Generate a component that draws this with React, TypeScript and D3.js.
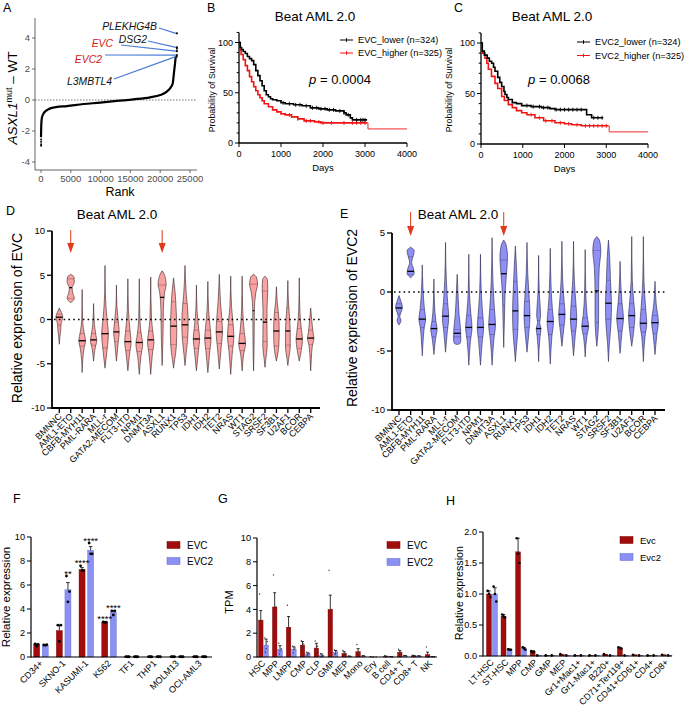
import React, { useEffect, useRef } from 'react';
import * as d3 from 'd3';

const FONT = '"Liberation Sans", Arial, Helvetica, sans-serif';
const RED_BAR = '#a10c0c';
const BLUE_BAR = '#8a91f2';
const BLUE_EDGE = '#5e67d4';

// ---------- A: ranked ASXL1mut - WT differences ----------
const rankPts = [0, 60, 150, 446, 1000, 1562, 2500, 4350, 7140, 9930, 12720, 15500, 18300, 20000, 21100, 21650, 22100, 22300, 22490, 22600];
const rankVals = [-2.4, -1.5, -1.15, -0.86, -0.66, -0.54, -0.46, -0.39, -0.26, -0.17, -0.06, 0.04, 0.17, 0.32, 0.54, 0.75, 1.07, 1.72, 2.37, 2.8];
const tailRanks = [20, 20, 20, 20];
const tailVals = [-2.55, -2.7, -2.85, -2.95];
const genes = ['PLEKHG4B', 'DSG2', 'EVC', 'EVC2', 'L3MBTL4'];
const geneRanks = [22800, 22800, 22800, 22790, 22760];
const geneVals = [4.3, 3.4, 3.15, 2.9, 2.8];
const geneHighlight = [false, false, true, true, false];
const extraRanks = [22800];
const extraVals = [3.3];

// ---------- B / C: survival curves (day, % surviving) ----------
const bLower: [number, number][] = [[0, 100], [30, 95], [60, 93], [100, 91], [150, 89], [200, 86], [250, 84], [300, 82], [350, 78], [400, 72], [450, 67], [500, 62], [550, 57], [600, 52], [650, 48], [700, 46], [750, 44], [800, 43], [900, 42], [1000, 40], [1100, 39], [1300, 38], [1500, 37], [1700, 35], [1900, 34], [2100, 33], [2300, 32], [2500, 30], [2550, 28], [2650, 25], [2700, 23], [3050, 23]];
const bHigher: [number, number][] = [[0, 100], [20, 93], [50, 88], [100, 83], [150, 77], [200, 72], [250, 66], [300, 61], [350, 56], [400, 52], [450, 48], [500, 45], [550, 42], [600, 39], [700, 36], [800, 33], [900, 31], [1000, 29], [1100, 28], [1250, 26], [1400, 24], [1550, 22], [1800, 21], [1950, 20], [3050, 20], [3070, 14], [4000, 14]];
const bLowerCens = [1050, 1200, 1350, 1450, 1600, 1750, 1850, 1950, 2050, 2150, 2250, 2400, 2500, 2600, 2800, 2900, 2950, 3000];
const bHigherCens = [1200, 1400, 1600, 1700, 1900, 2000, 2200, 2500, 2700, 2800, 2900, 3000];
const cLower: [number, number][] = [[0, 100], [30, 92], [80, 88], [150, 85], [200, 82], [255, 80], [300, 76], [335, 72], [400, 66], [450, 61], [495, 57], [550, 52], [575, 49], [620, 46], [655, 44], [750, 41], [850, 40], [974, 38], [1200, 37], [1450, 36], [1650, 35], [1772, 34], [2490, 34], [2530, 29], [2650, 26], [2930, 26]];
const cHigher: [number, number][] = [[0, 100], [30, 90], [96, 85], [140, 80], [176, 74], [250, 67], [335, 60], [400, 55], [495, 47], [560, 43], [655, 39], [750, 36], [850, 33], [974, 31], [1100, 29], [1293, 26], [1500, 23], [1772, 21], [2000, 20], [2171, 19], [2400, 18], [3049, 18], [3070, 12], [4000, 12]];
const cLowerCens = [1100, 1250, 1400, 1500, 1600, 1800, 1900, 2000, 2100, 2200, 2300, 2400, 2700, 2800, 2900];
const cHigherCens = [1200, 1400, 1550, 1700, 1900, 2100, 2300, 2500, 2600, 2700, 2800, 2900, 3000];

// ---------- D / E: violins ----------
const mutCats = ['BMNNC', 'AML1-ETO', 'CBFB-MYH11', 'PML-RARA', 'MLL-r', 'GATA2-MECOM', 'FLT3-ITD', 'NPM1', 'DNMT3A', 'ASXL1', 'RUNX1', 'TP53', 'IDH1', 'IDH2', 'TET2', 'NRAS', 'WT1', 'STAG2', 'SRSF2', 'SF3B1', 'U2AF1', 'BCOR', 'CEBPA'];
const arrowCats = ['AML1-ETO', 'ASXL1'];

// [value, relative half-width] outline knots, top to bottom
const evcShapes: [number, number][][] = [
  [[1.3, 0], [0.8, 0.5], [0.3, 0.85], [-0.5, 0.45], [-1.2, 0.35], [-2, 0.15], [-2.8, 0]],
  [[5.1, 0], [4.8, 0.8], [4.2, 0.9], [3.6, 0.35], [3.0, 0.5], [2.4, 0.9], [1.9, 0]],
  [[3.4, 0], [0, 0.1], [-1.5, 0.5], [-2.4, 0.85], [-3.2, 0.5], [-4.5, 0.15], [-6, 0]],
  [[1.8, 0], [-0.5, 0.2], [-1.8, 0.6], [-2.4, 0.8], [-3.2, 0.4], [-4.7, 0]],
  [[6.1, 0], [3, 0.08], [0, 0.5], [-1.6, 0.85], [-3.5, 0.5], [-5.5, 0]],
  [[3.9, 0], [1.5, 0.12], [-0.8, 0.6], [-1.5, 0.7], [-2.5, 0.45], [-4.7, 0]],
  [[4.6, 0], [1, 0.15], [-1.5, 0.6], [-2.5, 0.8], [-4, 0.4], [-5.8, 0]],
  [[4.6, 0], [0, 0.15], [-2, 0.6], [-2.7, 0.85], [-4.2, 0.4], [-6.2, 0]],
  [[4.8, 0], [0, 0.2], [-2, 0.7], [-2.5, 0.8], [-4, 0.4], [-6.2, 0]],
  [[5.5, 0], [5, 0.6], [4, 1.0], [3, 0.6], [1, 0.3], [-1, 0.25], [-3, 0.15], [-5.2, 0]],
  [[4.7, 0], [3, 0.4], [1, 0.65], [-1, 0.8], [-3, 0.7], [-4.5, 0.3], [-5.5, 0]],
  [[6.1, 0], [3, 0.3], [1.5, 0.6], [-0.5, 0.8], [-2.5, 0.6], [-4, 0.25], [-5.2, 0]],
  [[3.9, 0], [1, 0.15], [-1, 0.55], [-2.2, 0.8], [-3.5, 0.5], [-5.8, 0]],
  [[4.3, 0], [1, 0.2], [-1, 0.6], [-2.2, 0.8], [-3.5, 0.5], [-6, 0]],
  [[5.1, 0], [2, 0.3], [0, 0.65], [-1.4, 0.8], [-3, 0.5], [-5.6, 0]],
  [[4.9, 0], [1.5, 0.2], [-0.5, 0.6], [-2, 0.8], [-3.5, 0.45], [-6.2, 0]],
  [[4.9, 0], [1, 0.15], [-1.5, 0.55], [-2.7, 0.85], [-4, 0.35], [-5.8, 0]],
  [[5.1, 0], [4.8, 0.7], [4, 1.0], [3, 0.55], [1, 0.2], [-2, 0.15], [-4, 0.1], [-5.8, 0]],
  [[4.9, 0], [4.5, 0.6], [3.5, 0.7], [1, 0.5], [-1, 0.5], [-3, 0.55], [-4.5, 0.2], [-5.4, 0]],
  [[3.7, 0], [2, 0.2], [0.5, 0.55], [-1.3, 0.7], [-3, 0.6], [-4, 0.3], [-4.7, 0]],
  [[4.4, 0], [2, 0.15], [0, 0.45], [-1.5, 0.6], [-3, 0.6], [-4.5, 0.2], [-5.2, 0]],
  [[4.7, 0], [1, 0.15], [-1, 0.5], [-2.2, 0.8], [-3.5, 0.5], [-4.7, 0]],
  [[1.3, 0], [0, 0.25], [-1.5, 0.6], [-2.1, 0.8], [-3, 0.4], [-4.5, 0.15], [-5.8, 0]],
];
const evcMedian = [0.26, 3.6, -2.4, -2.3, -1.6, -1.4, -2.5, -2.6, -2.3, 2.5, -0.75, -0.6, -2.2, -2.1, -1.4, -1.9, -2.7, 1.0, -0.3, -1.3, -1.3, -2.2, -2.1];
const evcQ3 = [0.6, 4.6, -1.6, -1.6, 0, -0.3, -1.3, -1.5, -1.3, 3.9, 2.0, 1.8, -1.2, -1.2, -0.2, -0.6, -1.6, 4.0, 3.2, 0.8, 1.3, -1.0, -1.2];
const evcQ1 = [-0.6, 2.4, -3.0, -2.9, -3.2, -2.5, -3.5, -3.6, -3.4, -0.2, -2.8, -2.0, -3.3, -3.3, -2.7, -3.0, -3.5, -2.4, -2.5, -3.0, -2.9, -3.3, -2.8];

const evc2Shapes: [number, number][][] = [
  [[-0.3, 0], [-0.8, 0.5], [-1.3, 0.85], [-1.8, 0.4], [-2.1, 0.2], [-2.4, 0.5], [-2.8, 0]],
  [[3.8, 0], [3.5, 0.9], [3.0, 0.6], [2.5, 0.25], [2.0, 0.7], [1.6, 0.9], [1.2, 0]],
  [[2.3, 0], [0.5, 0.15], [-1.5, 0.55], [-2.3, 0.85], [-3, 0.5], [-4.5, 0.15], [-5.4, 0]],
  [[1.1, 0], [-1, 0.15], [-2.5, 0.5], [-3.1, 0.8], [-4, 0.4], [-5.3, 0]],
  [[4.2, 0], [1, 0.2], [-1, 0.55], [-2.1, 0.8], [-3.5, 0.4], [-5.1, 0]],
  [[1.5, 0], [0, 0.2], [-2, 0.5], [-3.2, 0.85], [-4, 0.9], [-4.35, 0.75], [-4.45, 0]],
  [[3.2, 0], [0, 0.15], [-2, 0.55], [-3, 0.8], [-4.2, 0.4], [-6.2, 0]],
  [[3.2, 0], [0, 0.2], [-2, 0.6], [-3, 0.8], [-4.2, 0.45], [-6.2, 0]],
  [[4.6, 0], [1, 0.2], [-1.5, 0.6], [-2.8, 0.85], [-4, 0.45], [-6.2, 0]],
  [[4.4, 0], [4.0, 0.6], [3, 0.95], [2, 0.8], [0, 0.35], [-2, 0.2], [-4.7, 0]],
  [[3.9, 0], [2, 0.3], [0, 0.55], [-1.6, 0.7], [-3.3, 0.6], [-5, 0.2], [-5.9, 0]],
  [[4.2, 0], [1.5, 0.2], [-0.5, 0.55], [-2, 0.75], [-3.5, 0.45], [-5.1, 0]],
  [[3.1, 0], [0, 0.15], [-2, 0.5], [-2.6, 0.25], [-3.1, 0.6], [-3.8, 0.35], [-5.9, 0]],
  [[3.7, 0], [0, 0.25], [-1.5, 0.55], [-2.5, 0.8], [-3.8, 0.4], [-6.1, 0]],
  [[4.3, 0], [1, 0.2], [-1, 0.6], [-1.9, 0.8], [-3, 0.5], [-4.6, 0]],
  [[4.3, 0], [1, 0.2], [-1, 0.6], [-2.3, 0.8], [-3.6, 0.45], [-5.4, 0]],
  [[3.6, 0], [0, 0.15], [-2, 0.5], [-2.9, 0.85], [-3.8, 0.4], [-5.5, 0]],
  [[4.7, 0], [4.3, 0.75], [3.5, 1.0], [2, 0.6], [0, 0.45], [-2, 0.45], [-3.5, 0.3], [-4.6, 0]],
  [[4.4, 0], [3, 0.3], [1, 0.5], [-1, 0.75], [-2.6, 0.65], [-4.5, 0.2], [-5.9, 0]],
  [[2.6, 0], [0.5, 0.2], [-1, 0.5], [-2.25, 0.85], [-3.3, 0.5], [-5.2, 0]],
  [[4.7, 0], [1, 0.15], [-1, 0.55], [-2, 0.8], [-3.3, 0.5], [-4.6, 0]],
  [[4.7, 0], [1, 0.15], [-1.5, 0.6], [-2.65, 0.85], [-3.8, 0.4], [-5.9, 0]],
  [[0.9, 0], [-1, 0.3], [-2.6, 0.85], [-3.5, 0.5], [-4.5, 0.2], [-5.3, 0]],
];
const evc2Median = [-1.35, 1.75, -2.3, -3.1, -2.05, -3.5, -3.0, -3.0, -2.75, 1.55, -1.6, -2.0, -3.1, -2.5, -1.9, -2.3, -2.9, 0.1, -0.95, -2.25, -2.0, -2.65, -2.6];
const evc2Q3 = [-1.0, 3.0, -1.5, -2.5, -1.0, -3.2, -2.0, -2.2, -1.5, 2.7, 0.9, -0.8, -2.4, -1.5, -1.0, -1.2, -2.2, 3.5, 1.0, -1.0, -1.0, -1.5, -2.0];
const evc2Q1 = [-1.8, 1.5, -3.0, -3.8, -3.0, -3.8, -3.8, -3.8, -3.6, -1.1, -3.2, -3.0, -3.6, -3.6, -2.8, -3.3, -3.5, -2.6, -2.3, -3.3, -3.0, -3.4, -3.5];

// ---------- F: cell lines ----------
const fCats = ['CD34+', 'SKNO-1', 'KASUMI-1', 'K562', 'TF1', 'THP1', 'MOLM13', 'OCI-AML3'];
const fEvcMean = [1.02, 2.2, 7.3, 2.9, 0.02, 0.02, 0.02, 0.02];
const fEvcSem = [0.07, 0.45, 0.15, 0.04, 0, 0, 0, 0];
const fEvc2Mean = [1.0, 5.6, 8.9, 3.75, 0.02, 0.02, 0.02, 0.02];
const fEvc2Sem = [0.04, 0.6, 0.3, 0.12, 0, 0, 0, 0];
const fEvcDots = [[1.1, 1.05, 0.9], [2.65, 2.65, 1.3], [7.6, 7.2, 7.2], [2.92, 2.9, 2.88], [0.03, 0.02, 0.02], [0.03, 0.02, 0.02], [0.03, 0.02, 0.02], [0.03, 0.02, 0.02]];
const fEvc2Dots = [[1.0, 1.02, 0.97], [6.75, 5.45, 4.6], [9.5, 8.6, 8.6], [3.85, 3.85, 3.5], [0.03, 0.02, 0.02], [0.03, 0.02, 0.02], [0.03, 0.02, 0.02], [0.03, 0.02, 0.02]];
const fStarCat = ['SKNO-1', 'KASUMI-1', 'KASUMI-1', 'K562', 'K562'];
const fStarSeries = [1, 0, 1, 0, 1];
const fStarText = ['**', '****', '****', '****', '****'];

// ---------- G: TPM in human hematopoietic cells ----------
const gCats = ['HSC', 'MPP', 'LMPP', 'CMP', 'CLP', 'GMP', 'MEP', 'Mono', 'Ery', 'B cell', 'CD4+ T', 'CD8+ T', 'NK'];
const gEvcMean = [3.1, 4.2, 2.5, 1.0, 0.75, 4.0, 0.3, 0.45, 0.01, 0.05, 0.4, 0.1, 0.21];
const gEvcSem = [0.8, 1.2, 0.9, 0.3, 0.4, 1.2, 0.15, 0.25, 0, 0.03, 0.15, 0.03, 0.2];
const gEvc2Mean = [1.0, 0.65, 0.65, 0.25, 0.12, 0.4, 0.06, 0.08, 0.0, 0.02, 0.1, 0.08, 0.02];
const gEvc2Sem = [0.5, 0.3, 0.2, 0.1, 0.13, 0.15, 0.02, 0.03, 0, 0.01, 0.03, 0.02, 0.01];
const gEvcDots = [[5.3, 3.0, 2.1, 2.0], [6.9, 4.2, 3.3, 2.3], [4.35, 2.4, 1.9, 1.35], [1.4, 1.1, 0.8, 0.7], [1.35, 0.9, 0.5, 0.25], [7.3, 4.0, 2.9, 1.8], [0.55, 0.3, 0.2, 0.15], [1.05, 0.4, 0.25, 0.1], [0.02, 0.01], [0.12, 0.05, 0.0], [0.65, 0.4, 0.2, 0.35], [0.15, 0.1, 0.05], [0.85, 0.0, 0.0]];
const gEvc2Dots = [[1.6, 1.3, 0.7, 0.4], [1.15, 0.7, 0.5, 0.25], [0.9, 0.75, 0.6, 0.35], [0.4, 0.3, 0.2, 0.1], [0.3, 0.1, 0.05, 0.03], [0.6, 0.5, 0.3, 0.2], [0.08, 0.05], [0.1, 0.07], [0.0], [0.03, 0.01], [0.13, 0.08], [0.1, 0.06], [0.03, 0.01]];

// ---------- H: mouse hematopoietic populations ----------
const hCats = ['LT-HSC', 'ST-HSC', 'MPP', 'CMP', 'GMP', 'MEP', 'Gr1+Mac1+', 'Gr1-Mac1+', 'B220+', 'CD71+Ter119+', 'CD41+CD61+', 'CD4+', 'CD8+'];
const hEvcMean = [1.0, 0.64, 1.68, 0.07, 0.01, 0.03, 0.01, 0.01, 0.03, 0.13, 0.02, 0.01, 0.02];
const hEvcSem = [0.05, 0.03, 0.22, 0.01, 0, 0, 0, 0, 0, 0.01, 0, 0, 0];
const hEvc2Mean = [1.0, 0.1, 0.12, 0.01, 0.01, 0.01, 0.01, 0.01, 0.01, 0.01, 0.01, 0.01, 0.01];
const hEvc2Sem = [0.1, 0.01, 0.02, 0, 0, 0, 0, 0, 0, 0, 0, 0, 0];
const hEvcDots = [[1.05, 0.95, 1.0], [0.67, 0.62, 0.64], [1.9, 1.5, 1.65], [0.08, 0.07, 0.06], [0.01], [0.03], [0.01], [0.01], [0.03], [0.14, 0.12], [0.02], [0.01], [0.02]];
const hEvc2Dots = [[1.12, 0.88, 1.0], [0.11, 0.1, 0.1], [0.14, 0.1, 0.12], [0.01], [0.01], [0.01], [0.01], [0.01], [0.01], [0.01], [0.01], [0.01], [0.01]];

type Sel = d3.Selection<any, any, any, any>;

function label(g: Sel, x: number, y: number, s: string, size: number, o: any = {}) {
  const t = g.append('text')
    .attr('x', x).attr('y', y)
    .attr('font-size', size)
    .attr('text-anchor', o.anchor || 'start')
    .attr('fill', o.fill || '#000');
  if (o.italic) t.attr('font-style', 'italic');
  if (o.rotate != null) t.attr('transform', `rotate(${o.rotate},${x},${y})`);
  t.text(s);
  return t;
}

function seg(g: Sel, x1: number, y1: number, x2: number, y2: number, stroke: string, w: number) {
  return g.append('line').attr('x1', x1).attr('y1', y1).attr('x2', x2).attr('y2', y2)
    .attr('stroke', stroke).attr('stroke-width', w);
}

function drawRank(svg: Sel) {
  const g = svg.append('g');
  const x = d3.scaleLinear().domain([0, 25000]).range([41, 190]);
  const y = d3.scaleLinear().domain([-4, 4]).range([162, 38]);

  seg(g, 35, 170, 197, 170, '#222', 0.7);
  seg(g, 35, 18, 35, 170, '#222', 0.7);
  [0, 5000, 10000, 15000, 20000, 25000].forEach(v => {
    seg(g, x(v), 170, x(v), 173, '#333', 0.7);
    label(g, x(v), 182, String(v), 9.5, { anchor: 'middle', fill: '#4d4d4d' });
  });
  [-4, -2, 0, 2, 4].forEach(v => {
    seg(g, 32, y(v), 35, y(v), '#333', 0.7);
    label(g, 30, y(v) + 3.3, String(v), 9.5, { anchor: 'end', fill: '#4d4d4d' });
  });
  seg(g, 35, y(0), 197, y(0), '#333', 0.7).attr('stroke-dasharray', '1.5,1.5');

  const pts = rankPts.map((r, i) => [r, rankVals[i]] as [number, number]);
  g.append('path')
    .attr('d', d3.line<[number, number]>().x(d => x(d[0])).y(d => y(d[1])).curve(d3.curveMonotoneX)(pts))
    .attr('fill', 'none').attr('stroke', '#000').attr('stroke-width', 2.2);
  tailRanks.forEach((r, i) => g.append('circle').attr('cx', x(r)).attr('cy', y(tailVals[i])).attr('r', 1).attr('fill', '#000'));
  extraRanks.forEach((r, i) => g.append('circle').attr('cx', x(r)).attr('cy', y(extraVals[i])).attr('r', 1).attr('fill', '#000'));

  const anchors = [[157, 30], [147, 43], [113, 47], [102, 63], [112, 85]];
  const starts = [[159, 28], [148, 41], [121, 45], [105, 55], [114, 79]];
  genes.forEach((name, i) => {
    const px = x(geneRanks[i]);
    const py = y(geneVals[i]);
    seg(g, starts[i][0], starts[i][1], px - 1, py, '#4a7bd6', 1.2);
    g.append('circle').attr('cx', px).attr('cy', py).attr('r', 1.1).attr('fill', '#000');
    label(g, anchors[i][0], anchors[i][1], name, 10.4, {
      anchor: 'end', italic: true, fill: geneHighlight[i] ? '#d42020' : '#111',
    });
  });

  const yl = g.append('text').attr('x', 17).attr('y', 98).attr('font-size', 13.5)
    .attr('text-anchor', 'middle').attr('transform', 'rotate(-90,17,98)');
  yl.append('tspan').attr('font-style', 'italic').text('ASXL1');
  yl.append('tspan').attr('font-size', 9).attr('dy', -5).text('mut');
  yl.append('tspan').attr('dy', 5).text(' – WT');
  label(g, 120, 196, 'Rank', 12.5, { anchor: 'middle' });
}

function drawKM(svg: Sel, c: any) {
  const g = svg.append('g');
  const x = d3.scaleLinear().domain([0, 4000]).range(c.xr);
  const y = d3.scaleLinear().domain([0, 100]).range(c.yr);
  const x0 = x(0);

  seg(g, x0, y(0), x0, y(110), '#000', 1.3);
  d3.range(0, 111, 10).forEach(v => {
    const major = v % 50 === 0;
    seg(g, x0 - (major ? 4 : 2.3), y(v), x0, y(v), '#000', 1);
    if (major) label(g, x0 - 6, y(v) + 3.2, String(v), 9, { anchor: 'end' });
  });
  seg(g, x0 - 0.6, y(0), x(4000), y(0), '#000', 1.3);
  d3.range(0, 4001, 1000).forEach(v => {
    seg(g, x(v), y(0), x(v), y(0) + 4, '#000', 1);
    label(g, x(v), y(0) + 13.5, String(v), 9, { anchor: 'middle' });
  });

  const line = d3.line<[number, number]>().x(d => x(d[0])).y(d => y(d[1])).curve(d3.curveStepAfter);
  const series = [
    { pts: c.higher, cens: c.higherCens, color: '#f01414' },
    { pts: c.lower, cens: c.lowerCens, color: '#000' },
  ];
  series.forEach(s => {
    const pts = s.pts as [number, number][];
    const stepEnd = pts.findIndex((p, i) => i > 0 && p[1] < pts[i - 1][1] && p[0] > 3060);
    if (stepEnd > 0) {
      g.append('path').attr('d', line(pts.slice(0, stepEnd))).attr('fill', 'none')
        .attr('stroke', s.color).attr('stroke-width', 1.6);
      g.append('path').attr('d', line(pts.slice(stepEnd - 1))).attr('fill', 'none')
        .attr('stroke', s.color).attr('stroke-width', 0.9);
    } else {
      g.append('path').attr('d', line(pts)).attr('fill', 'none')
        .attr('stroke', s.color).attr('stroke-width', 1.6);
    }
    (s.cens as number[]).forEach(d => {
      let lvl = pts[0][1];
      pts.forEach(p => { if (p[0] <= d) lvl = p[1]; });
      seg(g, x(d), y(lvl) - 2, x(d), y(lvl) + 2, s.color, 0.9);
    });
  });

  const leg = [{ t: c.legend[0], col: '#000' }, { t: c.legend[1], col: '#f01414' }];
  leg.forEach((l, i) => {
    const ly = c.legY[i];
    seg(g, c.legX, ly, c.legX + 13, ly, l.col, 1);
    seg(g, c.legX + 6.5, ly - 1.8, c.legX + 6.5, ly + 1.8, l.col, 1);
    label(g, c.legX + 18, ly + 3.3, l.t, 9.2);
  });

  label(g, c.titleX, 21, 'Beat AML 2.0', 13.5, { anchor: 'middle' });
  const pt = g.append('text').attr('x', c.pX).attr('y', 84).attr('font-size', 13).attr('text-anchor', 'middle');
  pt.append('tspan').attr('font-style', 'italic').text('p');
  pt.append('tspan').text(' = ' + c.p);
  label(g, (c.xr[0] + c.xr[1]) / 2, y(0) + 28, 'Days', 9.5, { anchor: 'middle' });
  label(g, c.yLabelX, 90, 'Probability of Survival', 8.8, { anchor: 'middle', rotate: -90 });
}

function drawViolins(svg: Sel, c: any) {
  const g = svg.append('g');
  const y = d3.scaleLinear().domain(c.yDomain).range(c.yRange);
  const x = d3.scalePoint<string>().domain(c.cats).range(c.xr);
  const W = 4;

  c.cats.forEach((cat: string, i: number) => {
    const cx = x(cat) as number;
    const knots = c.shapes[i] as [number, number][];
    const area = d3.area<[number, number]>()
      .y(d => y(d[0]))
      .x0(d => cx - d[1] * W)
      .x1(d => cx + d[1] * W)
      .curve(d3.curveMonotoneY);
    g.append('path').attr('d', area(knots)).attr('fill', c.fill)
      .attr('stroke', c.stroke).attr('stroke-width', 0.6);
    const widthAt = (v: number) => {
      for (let k = 0; k < knots.length - 1; k++) {
        const [a, wa] = knots[k];
        const [b, wb] = knots[k + 1];
        if (v <= a && v >= b) return (wa + (wb - wa) * (a - v) / (a - b)) * W;
      }
      return 0;
    };
    [c.q1[i], c.q3[i]].forEach((v: number) => {
      const w = widthAt(v);
      seg(g, cx - w, y(v), cx + w, y(v), c.stroke, 0.45).attr('opacity', 0.7);
    });
    const wm = widthAt(c.med[i]);
    seg(g, cx - wm, y(c.med[i]), cx + wm, y(c.med[i]), '#000', 1.3);
  });

  // zero reference
  seg(g, c.axisX + 2, y(0), c.axisEnd, y(0), '#000', 1.4).attr('stroke-dasharray', '1.6,3.2');

  // axes
  seg(g, c.axisX, y(c.yDomain[1]), c.axisX, y(c.yDomain[0]) + 1, '#000', 1.8);
  c.yTicks.forEach((v: number) => {
    seg(g, c.axisX - 5, y(v), c.axisX, y(v), '#000', 1.3);
    label(g, c.axisX - 7, y(v) + 3.3, String(v), 9.5, { anchor: 'end' });
  });
  seg(g, c.axisX, y(c.yDomain[0]), c.axisEnd, y(c.yDomain[0]), '#000', 1.8);
  c.cats.forEach((cat: string) => {
    const cx = x(cat) as number;
    seg(g, cx, y(c.yDomain[0]), cx, y(c.yDomain[0]) + 5, '#000', 1.3);
    label(g, cx + 3, y(c.yDomain[0]) + 9, cat, 9, { anchor: 'end', rotate: -45 });
  });

  // arrows
  arrowCats.forEach(cat => {
    const cx = x(cat) as number;
    const [a0, a1] = c.arrowY;
    seg(g, cx, a0, cx, a1 - 9, '#e0391c', 1);
    g.append('path').attr('d', `M${cx - 3.5},${a1 - 10}L${cx + 3.5},${a1 - 10}L${cx},${a1}Z`).attr('fill', '#e0391c');
  });

  label(g, c.titleX, 219, 'Beat AML 2.0', 13.5, { anchor: 'middle' });
  label(g, c.yLabelX, 318, c.yLabel, 14, { anchor: 'middle', rotate: -90 });
}

function drawBars(svg: Sel, c: any) {
  const g = svg.append('g');
  const y = d3.scaleLinear().domain(c.yDomain).range(c.yRange);
  const xb = d3.scaleBand<string>().domain(c.cats).range(c.xr).padding(0);
  const xi = d3.scaleBand<number>().domain([0, 1]).range([0, xb.bandwidth()])
    .paddingInner(c.pi).paddingOuter(c.po);
  const styles = [
    { fill: RED_BAR, stroke: '#7a0000' },
    { fill: BLUE_BAR, stroke: BLUE_EDGE },
  ];
  const offs = [-1.5, 1.5, 0, -0.8];

  c.cats.forEach((cat: string, i: number) => {
    [0, 1].forEach(s => {
      const bx = (xb(cat) as number) + (xi(s) as number);
      const bw = xi.bandwidth();
      const m = c.means[s][i];
      const cx = bx + bw / 2;
      g.append('rect').attr('x', bx).attr('y', y(m)).attr('width', bw)
        .attr('height', Math.max(0, y(0) - y(m)))
        .attr('fill', styles[s].fill).attr('stroke', styles[s].stroke).attr('stroke-width', 0.4);
      const e = c.errs[s][i];
      if (e > 0) {
        seg(g, cx, y(m), cx, y(m + e), '#000', 0.8);
        seg(g, cx - c.cap, y(m + e), cx + c.cap, y(m + e), '#000', 0.8);
      }
      (c.dots[s][i] as number[]).forEach((v, k) => {
        g.append('circle').attr('cx', cx + offs[k % offs.length] * c.spread).attr('cy', y(v))
          .attr('r', c.dotR).attr('fill', c.dotFill);
      });
    });
  });

  if (c.stars) {
    c.stars.cats.forEach((cat: string, k: number) => {
      const s = c.stars.series[k];
      const i = c.cats.indexOf(cat);
      const cx = (xb(cat) as number) + (xi(s) as number) + xi.bandwidth() / 2;
      const top = Math.max(c.means[s][i] + c.errs[s][i], ...c.dots[s][i]);
      label(g, cx, y(top) + 0.5, c.stars.text[k], 9.5, { anchor: 'middle' });
    });
  }

  // axes
  seg(g, c.axisX, y(c.yDomain[1]), c.axisX, y(0) + 0.6, '#000', 1.2);
  c.yTicks.forEach((v: number) => {
    seg(g, c.axisX - 4, y(v), c.axisX, y(v), '#000', 1);
    label(g, c.axisX - 6, y(v) + 3.2, c.fmt(v), 9.2, { anchor: 'end' });
  });
  seg(g, c.axisX, y(0), c.axisEnd, y(0), '#000', 1.2);
  c.cats.forEach((cat: string) => {
    const cx = (xb(cat) as number) + xb.bandwidth() / 2;
    label(g, cx + 2.5, y(0) + 7, cat, 9, { anchor: 'end', rotate: -45 });
  });

  c.legend.labels.forEach((t: string, k: number) => {
    const ly = c.legend.y[k];
    g.append('rect').attr('x', c.legend.x).attr('y', ly - 3.5).attr('width', 13).attr('height', 7)
      .attr('fill', styles[k].fill).attr('stroke', styles[k].stroke).attr('stroke-width', 0.5);
    label(g, c.legend.x + 20, ly + 3.6, t, c.legend.size);
  });

  label(g, c.yLabelX, c.yLabelY, c.yLabel, c.yLabelSize, { anchor: 'middle', rotate: -90 });
}

const App: React.FC = () => {
  const svgRef = useRef<SVGSVGElement>(null);

  useEffect(() => {
    if (!svgRef.current) return;
    const svg = d3.select(svgRef.current);
    svg.selectAll('*').remove();
    svg.append('rect').attr('width', 685).attr('height', 713).attr('fill', '#fff');

    drawRank(svg);

    drawKM(svg, {
      xr: [239, 407], yr: [143, 42.5],
      lower: bLower, higher: bHigher, lowerCens: bLowerCens, higherCens: bHigherCens,
      legend: ['EVC_lower (n=324)', 'EVC_higher (n=325)'], legX: 340, legY: [40, 53],
      titleX: 315, p: '0.0004', pX: 340, yLabelX: 215,
    });
    drawKM(svg, {
      xr: [481, 648], yr: [144, 43],
      lower: cLower, higher: cHigher, lowerCens: cLowerCens, higherCens: cHigherCens,
      legend: ['EVC2_lower (n=324)', 'EVC2_higher (n=325)'], legX: 577, legY: [42, 55.5],
      titleX: 552, p: '0.0068', pX: 559, yLabelX: 452,
    });

    drawViolins(svg, {
      cats: mutCats, shapes: evcShapes, med: evcMedian, q1: evcQ1, q3: evcQ3,
      xr: [59.3, 310.7], yDomain: [-10, 10], yRange: [408, 231], yTicks: [-10, -5, 0, 5, 10],
      axisX: 52, axisEnd: 320, fill: '#f9a2a2', stroke: '#3a2424',
      arrowY: [230, 253], titleX: 117, yLabel: 'Relative expression of EVC', yLabelX: 22,
    });
    drawViolins(svg, {
      cats: mutCats, shapes: evc2Shapes, med: evc2Median, q1: evc2Q1, q3: evc2Q3,
      xr: [399, 655], yDomain: [-10, 5], yRange: [410, 233], yTicks: [-10, -5, 0, 5],
      axisX: 392, axisEnd: 665, fill: '#8f8ff6', stroke: '#26264a',
      arrowY: [212, 236], titleX: 458, yLabel: 'Relative expression of EVC2', yLabelX: 357,
    });

    drawBars(svg, {
      cats: fCats, means: [fEvcMean, fEvc2Mean], errs: [fEvcSem, fEvc2Sem], dots: [fEvcDots, fEvc2Dots],
      xr: [29.6, 211.2], pi: 0.3, po: 0.47, cap: 1.8, dotR: 1.4, dotFill: '#000', spread: 1,
      yDomain: [0, 10], yRange: [657, 537], yTicks: [0, 2, 4, 6, 8, 10], fmt: (v: number) => String(v),
      axisX: 31, axisEnd: 212,
      stars: { cats: fStarCat, series: fStarSeries, text: fStarText },
      legend: { x: 167, y: [545, 561], labels: ['EVC', 'EVC2'], size: 10 },
      yLabel: 'Relative expression', yLabelX: 10, yLabelY: 597, yLabelSize: 11.5,
    });
    drawBars(svg, {
      cats: gCats, means: [gEvcMean, gEvc2Mean], errs: [gEvcSem, gEvc2Sem], dots: [gEvcDots, gEvc2Dots],
      xr: [256.5, 437.2], pi: 0.15, po: 0.38, cap: 1.5, dotR: 0.7, dotFill: '#333', spread: 0.8,
      yDomain: [0, 10], yRange: [657, 538], yTicks: [0, 2, 4, 6, 8, 10], fmt: (v: number) => String(v),
      axisX: 257, axisEnd: 437,
      legend: { x: 387, y: [545, 562], labels: ['EVC', 'EVC2'], size: 10 },
      yLabel: 'TPM', yLabelX: 233, yLabelY: 602, yLabelSize: 11,
    });
    drawBars(svg, {
      cats: hCats, means: [hEvcMean, hEvc2Mean], errs: [hEvcSem, hEvc2Sem], dots: [hEvcDots, hEvc2Dots],
      xr: [484.7, 673.8], pi: 0.17, po: 0.3, cap: 1.8, dotR: 1.3, dotFill: '#000', spread: 0.9,
      yDomain: [0, 2], yRange: [656, 532], yTicks: [0, 0.5, 1, 1.5, 2], fmt: (v: number) => v.toFixed(1),
      axisX: 483, axisEnd: 672,
      legend: { x: 620, y: [540, 557], labels: ['Evc', 'Evc2'], size: 9.5 },
      yLabel: 'Relative expression', yLabelX: 463, yLabelY: 593, yLabelSize: 10.8,
    });

    // panel letters
    const letters: [string, number, number][] = [
      ['A', 3, 12], ['B', 207, 12], ['C', 454, 12], ['D', 6, 215], ['E', 340, 218],
      ['F', 13, 503], ['G', 218, 503], ['H', 446, 505],
    ];
    letters.forEach(([t, lx, ly]) => label(svg, lx, ly, t, 12.5));
  }, []);

  return (
    <svg
      ref={svgRef}
      width={685}
      height={713}
      viewBox="0 0 685 713"
      style={{ position: 'absolute', left: 0, top: 0, fontFamily: FONT }}
    />
  );
};

export default App;
